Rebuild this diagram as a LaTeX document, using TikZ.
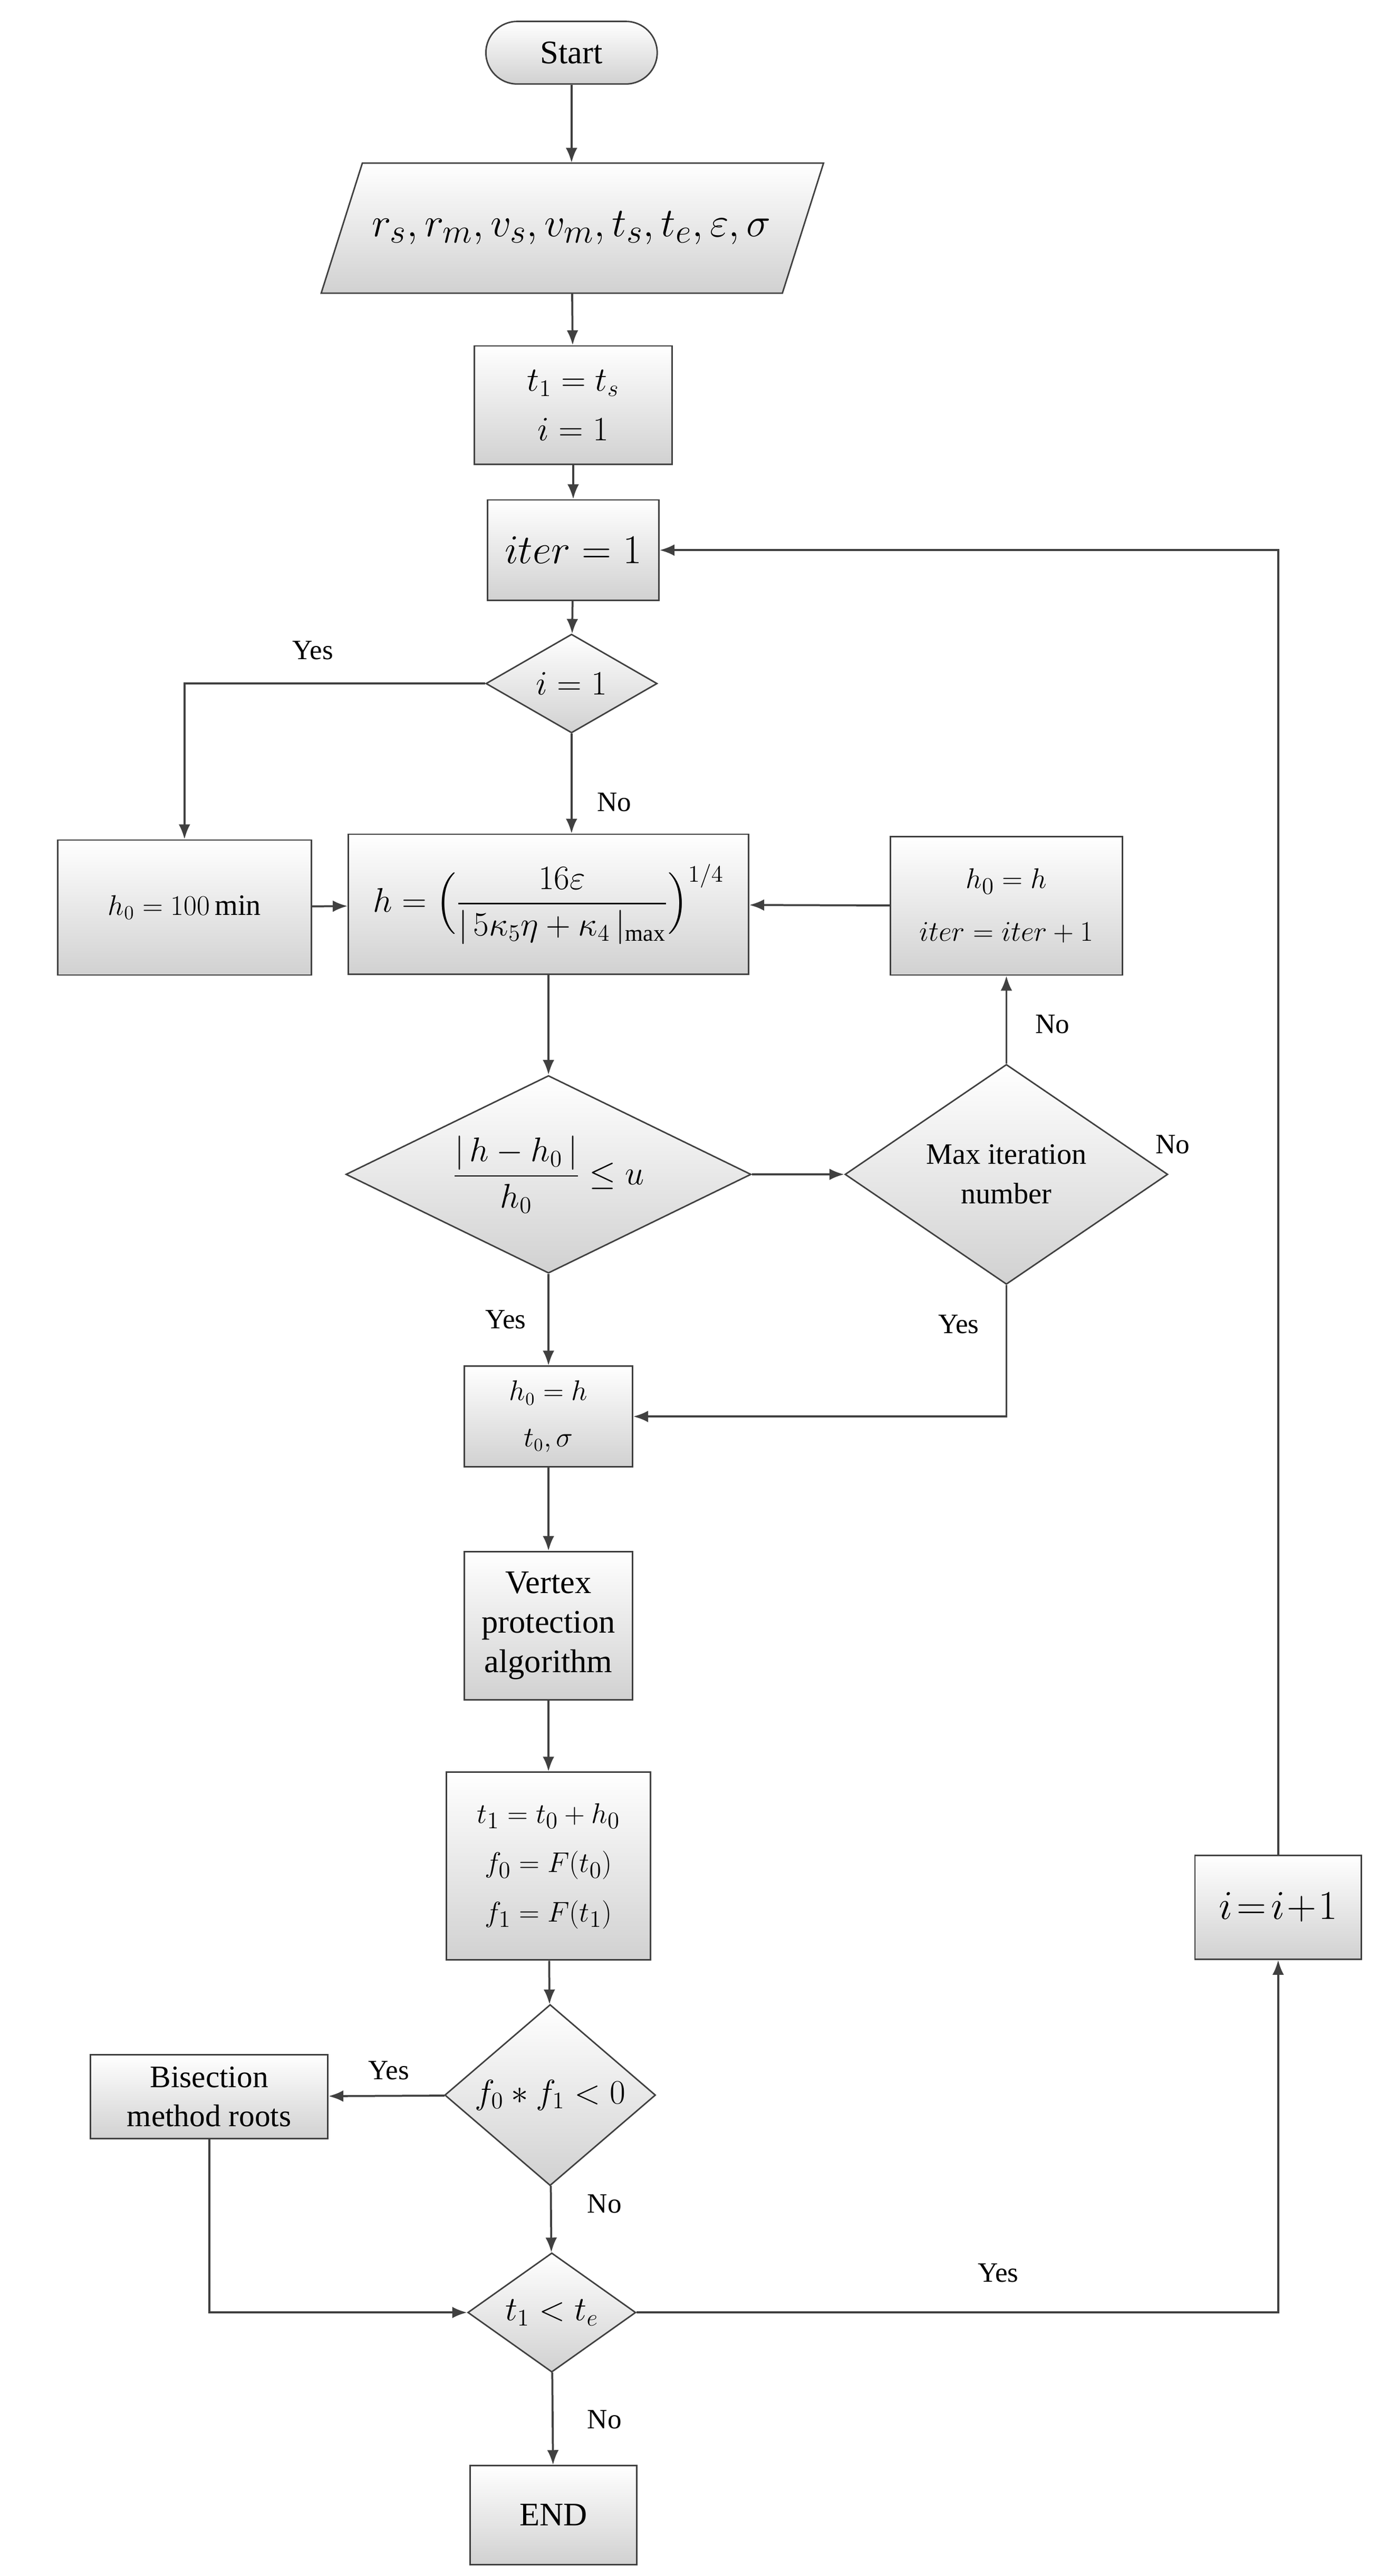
\documentclass[tikz,border=0pt]{standalone}
\usepackage{amsmath}
\usepackage{fontspec}
\setmainfont{Liberation Serif}
\usetikzlibrary{shapes.geometric,arrows.meta}
\begin{document}
\begin{tikzpicture}[x=1pt,y=-1pt,
  box/.style={draw=black!75,line width=0.9pt,top color=white,bottom color=black!18,inner sep=0pt,align=center,font=\fontsize{20}{24}\selectfont},
  arr/.style={draw=black!75,line width=1.2pt,-{Latex[length=9pt,width=7pt]}},
  lab/.style={font=\fontsize{17}{20}\selectfont}]
\useasboundingbox (0,0) rectangle (837,1564);
\node[box,rounded corners=19pt,minimum width=104pt,minimum height=38pt] (start) at (347,32) {Start};
\path[box] (220,99) -- (500,99) -- (475,178) -- (195,178) -- cycle;
\node[inner sep=0pt,minimum width=250pt,minimum height=79pt,font=\fontsize{30}{34}\selectfont] (in) at (347,138.5) {$r_s,r_m,v_s,v_m,t_s,t_e,\varepsilon,\sigma$};
\node[box,minimum width=120pt,minimum height=72pt] (b1) at (348,246) {\fontsize{22}{26}\selectfont$t_1=t_s$\\[6pt]\fontsize{22}{26}\selectfont$i=1$};
\node[box,minimum width=104pt,minimum height=61pt] (it) at (348,334) {\fontsize{26}{30}\selectfont$iter=1$};
\node[box,diamond,minimum width=104pt,minimum height=60pt,inner sep=0pt] (di) at (347,415) {$i=1$};
\node[box,minimum width=154pt,minimum height=82pt] (h0) at (112,551) {\fontsize{18}{20}\selectfont$h_0=100\,\mathrm{min}$};
\node[box,minimum width=243pt,minimum height=85pt] (hb) at (333,549) {\fontsize{20}{24}\selectfont$h=\Bigl(\dfrac{16\varepsilon}{|\,5\kappa_5\eta+\kappa_4\,|_{\max}}\Bigr)^{1/4}$};
\node[box,minimum width=141pt,minimum height=84pt] (hi) at (611,550) {\fontsize{19}{22}\selectfont$h_0=h$\\[8pt]\fontsize{19}{22}\selectfont$iter=iter+1$};
\node[box,diamond,aspect=2,minimum width=246pt,minimum height=120pt] (dc) at (333,713) {\fontsize{22}{24}\selectfont$\dfrac{|\,h-h_0\,|}{h_0}\le u$};
\node[box,diamond,minimum width=196pt,minimum height=116pt] (dm) at (611,713) {\fontsize{18}{21}\selectfont Max iteration\\\fontsize{18}{21}\selectfont number};
\node[box,minimum width=102pt,minimum height=61pt] (hs) at (333,860) {\fontsize{16}{18}\selectfont$h_0=h$\\[4pt]\fontsize{16}{18}\selectfont$t_0,\sigma$};
\node[box,minimum width=102pt,minimum height=90pt] (vx) at (333,987) {Vertex\\protection\\algorithm};
\node[box,minimum width=124pt,minimum height=114pt] (tb) at (333,1133) {\fontsize{19}{22}\selectfont$t_1=t_0+h_0$\\[6pt]\fontsize{19}{22}\selectfont$f_0=F(t_0)$\\[6pt]\fontsize{19}{22}\selectfont$f_1=F(t_1)$};
\node[box,diamond,minimum width=128pt,minimum height=77pt] (df) at (334,1272) {$f_0*f_1<0$};
\node[box,minimum width=144pt,minimum height=51pt] (bs) at (127,1273) {\fontsize{19}{22}\selectfont Bisection\\\fontsize{19}{22}\selectfont method roots};
\node[box,diamond,minimum width=102pt,minimum height=61pt] (dt) at (335,1404) {$t_1<t_e$};
\node[box,minimum width=101pt,minimum height=60pt] (en) at (336,1527) {END};
\node[box,minimum width=101pt,minimum height=63pt] (ii) at (776,1158) {\fontsize{28}{32}\selectfont$i\!=\!i\!+\!1$};
\draw[arr] (start) -- (in);
\draw[arr] (in) -- (b1);
\draw[arr] (b1) -- (it);
\draw[arr] (it) -- (di);
\draw[arr] (di.west) -| (h0.north);
\node[lab] at (190,395) {Yes};
\draw[arr] (di.south) -- (di.south |- hb.north);
\node[lab] at (373,487) {No};
\draw[arr] (h0) -- (hb);
\draw[arr] (hi) -- (hb);
\draw[arr] (hb) -- (dc);
\draw[arr] (dc) -- (dm);
\draw[arr] (dm) -- (hi);
\node[lab] at (639,622) {No};
\node[lab] at (712,695) {No};
\draw[arr] (dm.south) |- (hs.east);
\node[lab] at (582,804) {Yes};
\draw[arr] (dc) -- (hs);
\node[lab] at (307,801) {Yes};
\draw[arr] (hs) -- (vx);
\draw[arr] (vx) -- (tb);
\draw[arr] (tb) -- (df);
\draw[arr] (df) -- (bs);
\node[lab] at (236,1257) {Yes};
\draw[arr] (df) -- (dt);
\node[lab] at (367,1338) {No};
\draw[arr] (bs.south) |- (dt.west);
\draw[arr] (dt.east) -| (ii.south);
\node[lab] at (606,1380) {Yes};
\draw[arr] (ii.north) |- (it.east);
\draw[arr] (dt) -- (en);
\node[lab] at (367,1469) {No};
\end{tikzpicture}
\end{document}
